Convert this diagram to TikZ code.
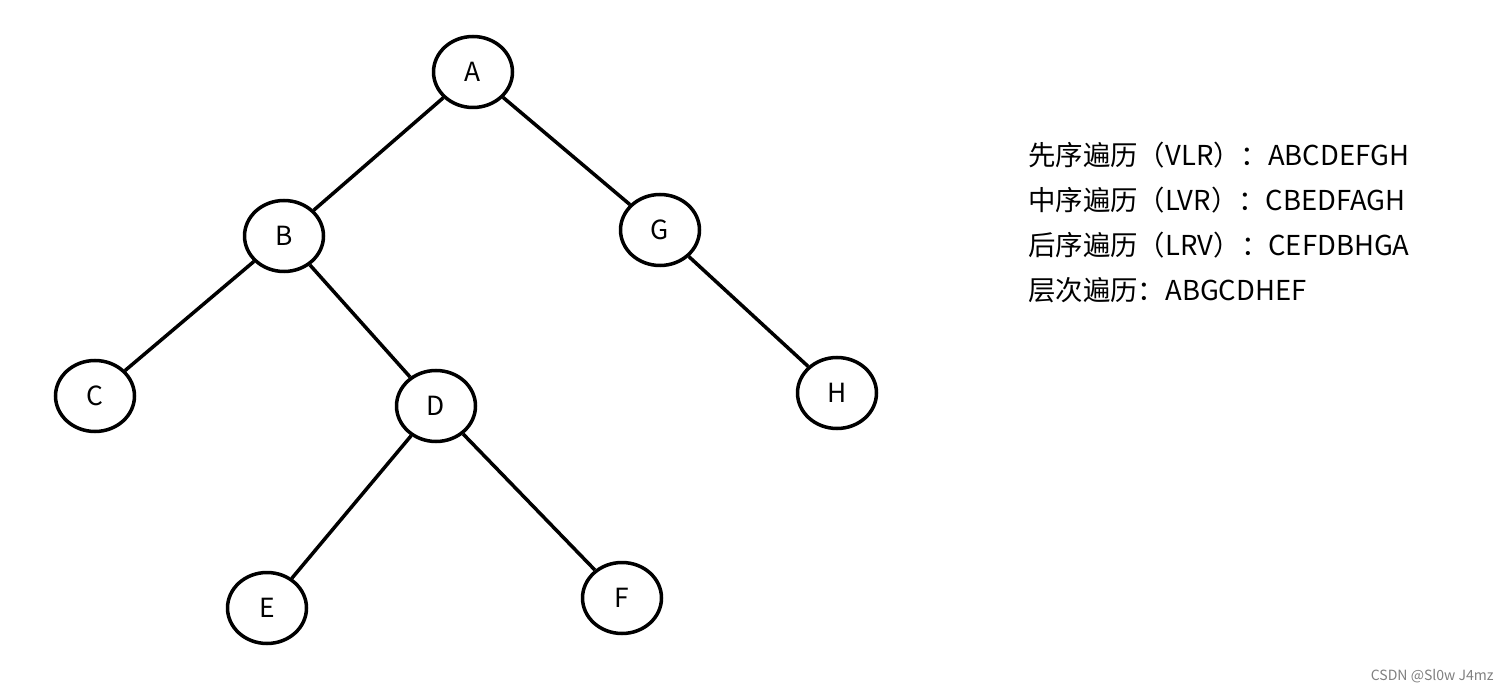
\documentclass[tikz,border=0pt]{standalone}
\usepackage{fontspec}
\setmainfont{Noto Sans CJK SC}
\usetikzlibrary{shapes.geometric}
\tikzset{
	vertex/.style={ellipse,draw,line width=2pt,minimum width=1.58cm,minimum height=1.42cm,inner sep=0pt,font=\fontsize{15}{18}\selectfont},
	edge/.style={line width=2pt},
	order/.style={anchor=west,inner sep=0pt,font=\fontsize{15.6}{18}\selectfont}
}
\begin{document}
\begin{tikzpicture}[x=0.02cm,y=-0.02cm]
\useasboundingbox (0,0) rectangle (1504,692);
% tree nodes
\node[vertex] (A) at (473,72) {A};
\node[vertex] (B) at (284,236) {B};
\node[vertex] (G) at (660,230) {G};
\node[vertex] (C) at (95,396) {C};
\node[vertex] (D) at (436,406) {D};
\node[vertex] (H) at (837,393) {H};
\node[vertex] (E) at (267,608) {E};
\node[vertex] (F) at (622,598) {F};

\draw[edge] (A)--(B);
\draw[edge] (A)--(G);
\draw[edge] (B)--(C);
\draw[edge] (B)--(D);
\draw[edge] (G)--(H);
\draw[edge] (D)--(E);
\draw[edge] (D)--(F);

% traversal orders
\node[order] (pre) at (1028,155) {先序遍历（VLR）：ABCDEFGH};
\node[order] (in) at (1028,200) {中序遍历（LVR）：CBEDFAGH};
\node[order] (post) at (1028,245) {后序遍历（LRV）：CEFDBHGA};
\node[order] (lvl) at (1028,290) {层次遍历：ABGCDHEF};

\node[anchor=east,inner sep=0pt,text=gray,font=\fontsize{8}{10}\selectfont] (mark) at (1494,676) {CSDN @Sl0w J4mz};
\end{tikzpicture}
\end{document}
